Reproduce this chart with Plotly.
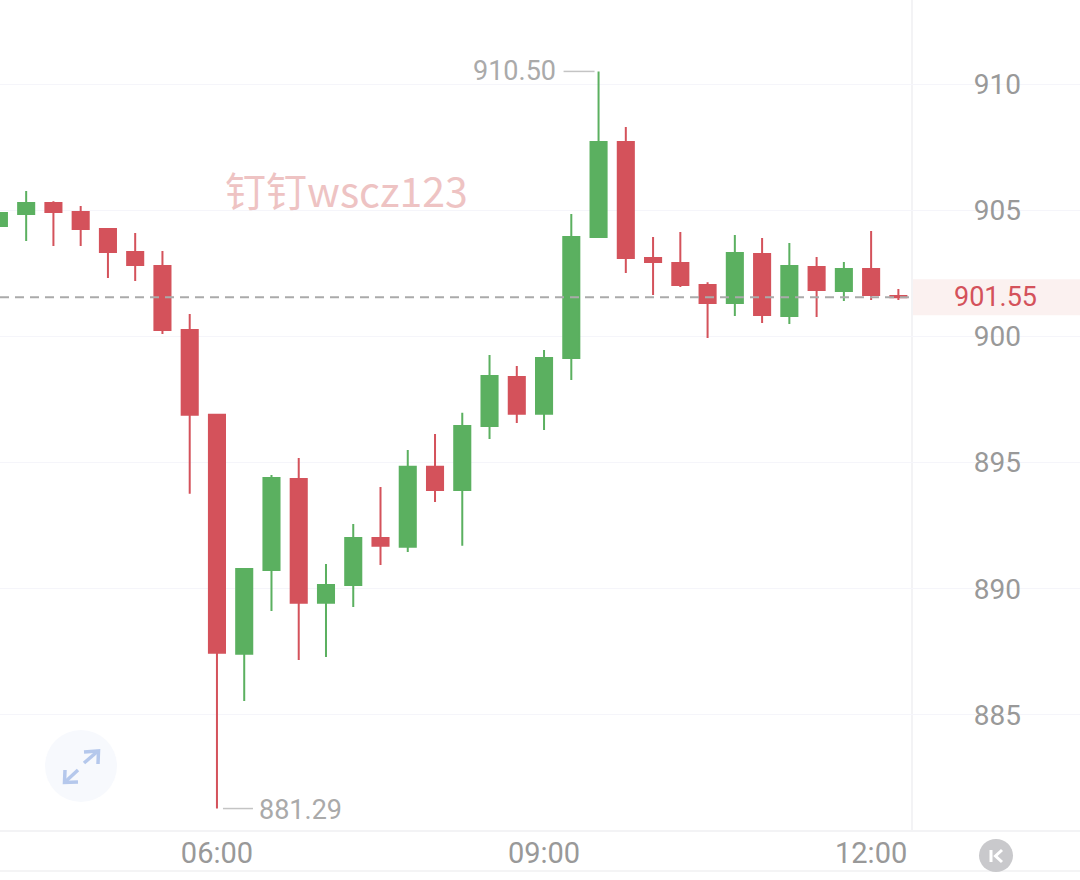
import plotly.graph_objects as go

times = ["04:00","04:15","04:30","04:45","05:00","05:15","05:30","05:45","06:00","06:15","06:30","06:45",
         "07:00","07:15","07:30","07:45","08:00","08:15","08:30","08:45","09:00","09:15","09:30","09:45",
         "10:00","10:15","10:30","10:45","11:00","11:15","11:30","11:45","12:00","12:15"]
opens = [904.37,904.85,905.29,904.93,904.26,903.34,902.79,900.25,896.89,887.42,890.74,894.35,
         889.44,890.15,892.01,891.66,894.83,893.91,896.45,898.39,896.93,899.14,903.94,907.70,
         903.11,902.91,902.04,901.32,903.26,900.81,902.75,901.80,902.67,901.60]
highs = [904.89,905.76,905.36,905.17,904.26,904.10,903.38,900.89,896.89,890.78,894.51,895.18,
         890.98,892.57,894.03,895.50,896.13,896.97,899.26,898.83,899.46,904.85,910.50,908.30,
         903.94,904.14,902.15,904.02,903.90,903.70,903.15,902.95,904.18,901.88]
lows = [904.37,903.78,903.58,903.58,902.31,902.19,900.09,893.76,881.29,885.55,889.12,887.18,
        887.30,889.28,890.94,891.46,893.44,891.70,895.93,896.57,896.29,898.27,903.94,902.51,
        901.64,901.96,899.94,900.81,900.53,900.49,900.77,901.40,901.44,901.44]
closes = [904.89,905.29,904.93,904.26,903.34,902.83,900.25,896.89,887.46,890.78,894.39,889.44,
          890.15,892.01,891.70,894.83,893.91,896.45,898.43,896.93,899.14,903.94,907.70,903.11,
          902.95,902.04,901.32,903.30,900.85,902.79,901.84,902.67,901.64,901.55]
y_ticks = [885, 890, 895, 900, 905, 910]
x_ticks = ["06:00", "09:00", "12:00"]
last_price = 901.55
high_label, high_time = "910.50", "09:30"
low_label, low_time = "881.29", "06:00"
watermark = "钉钉wscz123"

DAY = "2024-01-02 "
RED, GREEN = "#d4525b", "#5bb060"
W, H, PLOT_H = 1080, 880, 831


def px(x):
    return x / W


def py(y):
    return 1 - y / PLOT_H


def path(points, close=False):
    s = " ".join(("M" if i == 0 else "L") + f"{px(a):.5f},{py(b):.5f}" for i, (a, b) in enumerate(points))
    return s + (" Z" if close else "")


fig = go.Figure(go.Candlestick(
    x=[DAY + t for t in times], open=opens, high=highs, low=lows, close=closes,
    increasing=dict(line=dict(color=GREEN, width=2), fillcolor=GREEN),
    decreasing=dict(line=dict(color=RED, width=2), fillcolor=RED),
    whiskerwidth=0, hoverinfo="skip",
))

chrome = "#f3f3f5"
shapes = [
    # white strip masks the gridlines behind the price labels
    dict(type="rect", xref="paper", yref="paper", x0=px(924), x1=px(1068), y0=0, y1=1,
         fillcolor="white", line_width=0, layer="below"),
    dict(type="rect", xref="paper", yref="y", x0=px(912), x1=1, y0=last_price - 0.71, y1=last_price + 0.71,
         fillcolor="#fbf1f0", line_width=0, layer="below"),
    dict(type="line", xref="paper", yref="paper", x0=px(912), x1=px(912), y0=0, y1=1,
         line=dict(color=chrome, width=2), layer="below"),
    dict(type="line", xref="paper", yref="paper", x0=0, x1=1, y0=py(831), y1=py(831),
         line=dict(color=chrome, width=2)),
    dict(type="line", xref="paper", yref="paper", x0=0, x1=1, y0=py(871), y1=py(871),
         line=dict(color="#f4f4f5", width=2)),
    dict(type="line", xref="paper", yref="y", x0=0, x1=px(911), y0=last_price, y1=last_price,
         line=dict(color="#aaaaaa", width=2, dash="9px,6px")),
    # high / low leader lines
    dict(type="line", xref="x", yref="y", xsizemode="pixel", xanchor=DAY + high_time, x0=-35, x1=-4,
         y0=float(high_label), y1=float(high_label), line=dict(color="#c4c4c4", width=1.5)),
    dict(type="line", xref="x", yref="y", xsizemode="pixel", xanchor=DAY + low_time, x0=6, x1=36,
         y0=float(low_label), y1=float(low_label), line=dict(color="#c4c4c4", width=1.5)),
    # expand button
    dict(type="circle", xref="paper", yref="paper", x0=px(45), x1=px(117), y0=py(802), y1=py(730),
         fillcolor="#f7f9fd", line_width=0),
    dict(type="path", xref="paper", yref="paper", path=path([(84, 752), (98.5, 751), (98, 764)]),
         line=dict(color="#b5c8ec", width=3.5)),
    dict(type="path", xref="paper", yref="paper", path=path([(84, 763), (98, 751)]),
         line=dict(color="#b5c8ec", width=3.5)),
    dict(type="path", xref="paper", yref="paper", path=path([(65, 770), (64.5, 782.5), (78, 782)]),
         line=dict(color="#b5c8ec", width=3.5)),
    dict(type="path", xref="paper", yref="paper", path=path([(65, 782), (78, 770)]),
         line=dict(color="#b5c8ec", width=3.5)),
    # jump-to-latest button
    dict(type="circle", xref="paper", yref="paper", x0=px(979), x1=px(1013), y0=py(872), y1=py(839),
         fillcolor="#c9c9cc", line_width=0),
    dict(type="line", xref="paper", yref="paper", x0=px(991), x1=px(991), y0=py(850), y1=py(862),
         line=dict(color="white", width=3)),
    dict(type="path", xref="paper", yref="paper", path=path([(1002, 850), (995.5, 856), (1002, 862)]),
         line=dict(color="white", width=3)),
]

annotations = [
    dict(xref="paper", yref="paper", x=px(346), y=py(189), xanchor="center", yanchor="middle",
         text=watermark, showarrow=False,
         font=dict(family="Noto Sans CJK SC", size=41, color="#eec3c3")),
    dict(xref="paper", yref="y", x=px(995), y=last_price, xanchor="center", yanchor="middle",
         text=f"{last_price:.2f}", showarrow=False,
         font=dict(family="Roboto", size=27, color=RED)),
    dict(xref="x", yref="y", x=DAY + high_time, y=float(high_label), text=high_label, showarrow=False,
         xanchor="right", xshift=-41, font=dict(family="Roboto", size=27, color="#aaaaaa")),
    dict(xref="x", yref="y", x=DAY + low_time, y=float(low_label), text=low_label, showarrow=False,
         xanchor="left", xshift=40, yshift=-1, font=dict(family="Roboto", size=27, color="#aaaaaa")),
]

fig.update_layout(
    width=W, height=H, margin=dict(l=0, r=0, t=0, b=H - PLOT_H),
    paper_bgcolor="white", plot_bgcolor="white", showlegend=False, boxgap=0.41, boxgroupgap=0,
    shapes=shapes, annotations=annotations,
    xaxis=dict(
        type="date", range=["2024-01-02 04:00:36", "2024-01-02 13:54:57"],
        rangeslider=dict(visible=False), showgrid=False, zeroline=False, showline=False, ticks="",
        tickmode="array", tickvals=[DAY + t for t in x_ticks], ticktext=x_ticks, ticklabelstandoff=2,
        tickfont=dict(family="Roboto", size=29, color="#999999"),
    ),
    yaxis=dict(
        side="right", range=[880.40, 913.33], tickmode="array", tickvals=y_ticks,
        ticktext=[str(v) for v in y_ticks], ticklabelposition="inside", ticks="", ticklabelstandoff=56,
        showgrid=True, gridcolor="#f5f5fa", gridwidth=1, zeroline=False, showline=False,
        tickfont=dict(family="Roboto", size=28, color="#999999"),
    ),
)

fig.write_html("out.html", post_script="document.body.style.margin='0';",
               config={"displayModeBar": False})
